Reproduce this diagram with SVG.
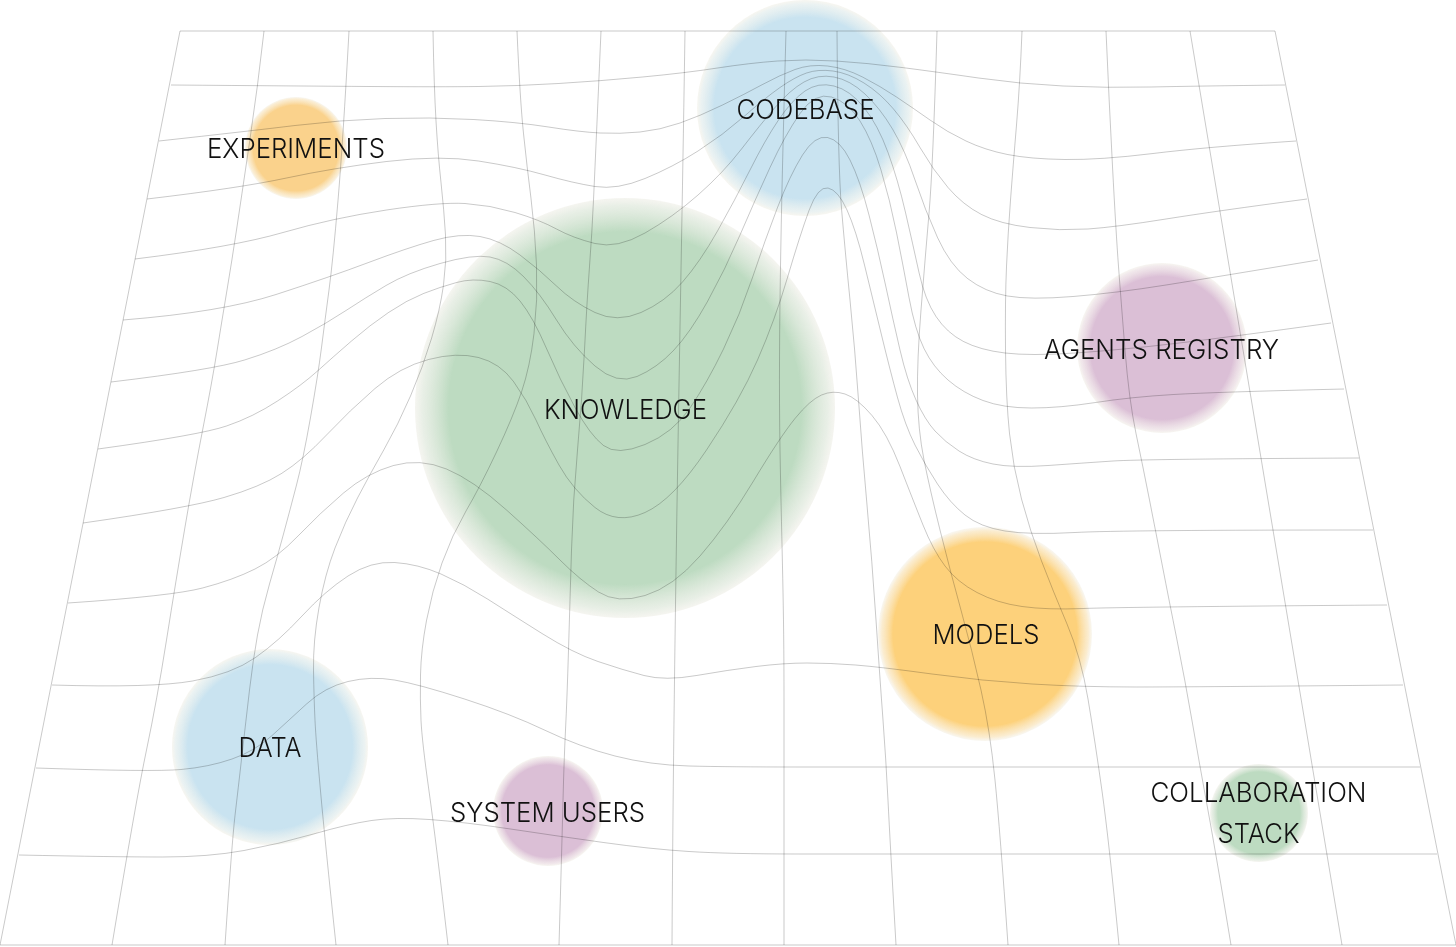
<svg xmlns="http://www.w3.org/2000/svg" width="1456" height="947" viewBox="0 0 1456 947">
<defs>
<style>
.g{fill:none;stroke:#000;stroke-opacity:0.21;stroke-width:1}
.b{mix-blend-mode:multiply}
.t{font-family:Inter,"Noto Sans","Liberation Sans",sans-serif;font-weight:300;font-size:27px;fill:#111;text-anchor:middle}
</style>
<radialGradient id="gGreen"><stop offset="0" stop-color="#bddbc1"/><stop offset="0.84" stop-color="#bddbc1"/><stop offset="0.965" stop-color="#d6e2d2" stop-opacity="0.55"/><stop offset="1" stop-color="#e6e6da" stop-opacity="0.4"/></radialGradient>
<radialGradient id="gBlue"><stop offset="0" stop-color="#c9e3f0"/><stop offset="0.84" stop-color="#c9e3f0"/><stop offset="0.965" stop-color="#dbe8e8" stop-opacity="0.55"/><stop offset="1" stop-color="#ebe9dc" stop-opacity="0.4"/></radialGradient>
<radialGradient id="gPurple"><stop offset="0" stop-color="#dbbfd6"/><stop offset="0.84" stop-color="#dbbfd6"/><stop offset="0.965" stop-color="#e6d6dc" stop-opacity="0.55"/><stop offset="1" stop-color="#ebe7dc" stop-opacity="0.4"/></radialGradient>
<radialGradient id="gOrange"><stop offset="0" stop-color="#fdd17b"/><stop offset="0.86" stop-color="#fdd17b"/><stop offset="0.965" stop-color="#f8e0b0" stop-opacity="0.6"/><stop offset="1" stop-color="#f0ebdc" stop-opacity="0.4"/></radialGradient>
<radialGradient id="gOrange2"><stop offset="0" stop-color="#fad28c"/><stop offset="0.84" stop-color="#fad28c"/><stop offset="0.965" stop-color="#f7e2b8" stop-opacity="0.6"/><stop offset="1" stop-color="#f0ebdc" stop-opacity="0.4"/></radialGradient>
</defs>
<rect x="0" y="0" width="1456" height="947" fill="#fff"/>
<g id="grid">
<path class="g" d="M180,31 L1275,31"/>
<path class="g" d="M171,85 Q300,86 370,86.5 Q440,87 478.5,86.5 Q517,86 558.5,83.5 Q600,81 642.5,77 Q685,73 717.5,68 Q750,63 777.5,61 Q805,59 836,61 Q867,63 902,67.5 Q937,72 978.5,78 Q1020,84 1063,86 Q1106,88 1151,87 Q1196,86 1285,85"/>
<path class="g" d="M159,141 Q250,131 295,125.5 Q340,120 385,118.5 Q430,117 473.5,119.5 Q517,122 548.5,127 Q580,132 600,133 Q620,134 640,132 Q660,130 680,123 Q700,116 722.5,105 Q745,94 762.5,84.5 Q780,75 795,69.5 Q810,64 827.5,66 Q845,68 862.5,77 Q880,86 896.5,97 Q913,108 930,120 Q947,132 966,141 Q985,150 1007.5,154.5 Q1030,159 1065,159.5 Q1100,160 1153,153.5 Q1206,147 1296,141"/>
<path class="g" d="M147,199 Q240,188 286.5,178 Q333,168 386.5,161.5 Q440,155 478.5,161 Q517,167 545,175 Q573,183 595,186.5 Q617,190 645,178.5 Q673,167 698,151 Q723,135 744,116.5 Q765,98 780,87.5 Q795,77 806.5,73 Q818,69 833,71 Q848,73 864,83 Q880,93 893.5,109 Q907,125 920,147.5 Q933,170 948,187.5 Q963,205 981.5,214.5 Q1000,224 1030,227.5 Q1060,231 1088,229 Q1116,227 1166,219 Q1216,211 1307,199"/>
<path class="g" d="M135,259 Q233,247 283,232.5 Q333,218 386.5,210 Q440,202 465,203.5 Q490,205 515,212.5 Q540,220 556.5,229 Q573,238 595,243.5 Q617,249 645,233 Q673,217 698,195 Q723,173 741.5,149 Q760,125 775,107.5 Q790,90 804,82 Q818,74 834,77 Q850,80 865,94 Q880,108 892.5,129 Q905,150 915,180 Q925,210 937.5,237.5 Q950,265 967.5,278.5 Q985,292 1007.5,296 Q1030,300 1073,296.5 Q1116,293 1166,285 Q1216,277 1318,260"/>
<path class="g" d="M123,320 Q222,312 276,294.5 Q330,277 368.5,262.5 Q407,248 433.5,240.5 Q460,233 480,236.5 Q500,240 520,255 Q540,270 556.5,286 Q573,302 595,312.5 Q617,323 641,312.5 Q665,302 682.5,282 Q700,262 717.5,231 Q735,200 750,170 Q765,140 778.5,120 Q792,100 805,91 Q818,82 834,86 Q850,90 864,107.5 Q878,125 888,152.5 Q898,180 905.5,212.5 Q913,245 919,272.5 Q925,300 936,316.5 Q947,333 963.5,341.5 Q980,350 1005,353 Q1030,356 1075,353 Q1120,350 1175,343.5 Q1230,337 1331,323"/>
<path class="g" d="M111,382 Q212,370 244.5,360 Q277,350 302,336.5 Q327,323 346,310.5 Q365,298 386,285.5 Q407,273 440,263.5 Q473,254 490,257 Q507,260 523.5,276.5 Q540,293 556.5,320 Q573,347 595,366 Q617,385 637,376.5 Q657,368 673.5,350.5 Q690,333 707.5,301.5 Q725,270 740,235 Q755,200 770,167.5 Q785,135 800,113.5 Q815,92 831.5,97 Q848,102 860,121 Q872,140 881,170 Q890,200 896.5,232.5 Q903,265 909,297.5 Q915,330 924,348.5 Q933,367 948,380 Q963,393 983,400.5 Q1003,408 1031.5,408 Q1060,408 1095.5,402.5 Q1131,397 1173.5,394.5 Q1216,392 1344,389"/>
<path class="g" d="M98,449 Q200,435 226.5,426 Q253,417 277.5,401 Q302,385 317.5,371 Q333,357 351.5,341 Q370,325 388.5,312.5 Q407,300 423.5,293.5 Q440,287 456.5,282.5 Q473,278 490,281.5 Q507,285 520,301 Q533,317 546.5,348.5 Q560,380 575,407.5 Q590,435 603.5,445.5 Q617,456 645,444.5 Q673,433 690,408 Q707,383 723.5,349 Q740,315 752.5,277.5 Q765,240 777.5,207.5 Q790,175 802.5,155 Q815,135 827.5,137.5 Q840,140 850,160 Q860,180 869,215 Q878,250 885.5,285 Q893,320 900,350 Q907,380 916,400 Q925,420 935,431 Q945,442 959,451 Q973,460 993,464 Q1013,468 1048,465.5 Q1083,463 1113,461 Q1143,459 1359,458"/>
<path class="g" d="M83,523 Q188,508 224,497.5 Q260,487 281.5,473.5 Q303,460 326.5,435 Q350,410 375,388.5 Q400,367 428.5,359.5 Q457,352 478.5,357.5 Q500,363 513.5,381.5 Q527,400 536,420 Q545,440 559,465 Q573,490 595,507.5 Q617,525 645,512.5 Q673,500 706.5,450 Q740,400 757.5,360 Q775,320 787.5,277.5 Q800,235 809,210.5 Q818,186 828,188 Q838,190 847,210 Q856,230 864.5,265 Q873,300 881.5,335 Q890,370 897.5,397.5 Q905,425 915,445 Q925,465 937.5,484 Q950,503 965,515 Q980,527 1005,531 Q1030,535 1075,532.5 Q1120,530 1373,530"/>
<path class="g" d="M68,603 Q172,596 202.5,588 Q233,580 255,569 Q277,558 298.5,535.5 Q320,513 343.5,493 Q367,473 393.5,465.5 Q420,458 446.5,469 Q473,480 506.5,510 Q540,540 560,560 Q580,580 598.5,592 Q617,604 645,595.5 Q673,587 700,556 Q727,525 753.5,481 Q780,437 795,418.5 Q810,400 821.5,395 Q833,390 845,394 Q857,398 872,415.5 Q887,433 900,466.5 Q913,500 923,525 Q933,550 945,566 Q957,582 977,592.5 Q997,603 1022,606.5 Q1047,610 1083.5,608.5 Q1120,607 1387,605"/>
<path class="g" d="M52,685 Q153,688 192.5,681 Q232,674 255.5,657.5 Q279,641 302,616 Q325,591 348,576 Q371,561 394.5,562.5 Q418,564 441,574 Q464,584 487.5,599 Q511,614 542,633.5 Q573,653 598,661.5 Q623,670 644,675.5 Q665,681 696.5,675.5 Q728,670 756,666.5 Q784,663 807,663 Q830,663 855.5,665 Q881,667 932,674 Q983,681 1032,684 Q1081,687 1136.5,687 Q1192,687 1403,685"/>
<path class="g" d="M36,768 Q153,772 181,769.5 Q209,767 232,759 Q255,751 271.5,736 Q288,721 306.5,704 Q325,687 348,681.5 Q371,676 394.5,680 Q418,684 464.5,699 Q511,714 545.5,730.5 Q580,747 615,756 Q650,765 689,766 Q728,767 800,767 L1420,767"/>
<path class="g" d="M19,855 Q116,857 162.5,857 Q209,857 244,850.5 Q279,844 313.5,834 Q348,824 371.5,820.5 Q395,817 429.5,819.5 Q464,822 510.5,829 Q557,836 603.5,842.5 Q650,849 689,851.5 Q728,854 800,854 L1437,854"/>
<path class="g" d="M0,945 L1456,945"/>
<path class="g" d="M180,31 L0,945"/>
<path class="g" d="M264,31 Q258,85 249.5,142.5 Q241,200 236.5,230 Q232,260 227,290 Q222,320 217,351 Q212,382 203,428 Q194,474 185,527 Q176,580 166.5,640 Q157,700 146.5,750 Q136,800 112,945"/>
<path class="g" d="M349,31 Q343,141 338,200.5 Q333,260 329,290 Q325,320 321.5,347.5 Q318,375 310.5,417.5 Q303,460 296.5,485 Q290,510 283.5,534 Q277,558 269.5,584 Q262,610 257.5,635 Q253,660 249.5,690 Q246,720 242,755 Q238,790 235,815.5 Q232,841 225,945"/>
<path class="g" d="M433,31 Q434,87 436,121 Q438,155 441,182.5 Q444,210 445.5,235 Q447,260 443.5,285 Q440,310 431.5,338.5 Q423,367 410.5,396 Q398,425 384,449.5 Q370,474 357.5,498 Q345,522 335,548 Q325,574 319,607.5 Q313,641 313.5,670.5 Q314,700 315,720.5 Q316,741 320.5,791 Q325,841 336,945"/>
<path class="g" d="M517,31 Q520,100 523.5,133.5 Q527,167 531,198.5 Q535,230 536.5,265 Q538,300 534,333.5 Q530,367 521.5,392 Q513,417 496.5,452 Q480,487 466,511 Q452,535 442,563 Q432,591 426.5,620.5 Q421,650 420.5,675 Q420,700 421,720.5 Q422,741 429,791 Q436,841 448,945"/>
<path class="g" d="M601,31 Q598,100 596.5,133.5 Q595,167 593.5,200 Q592,233 589.5,266.5 Q587,300 584.5,350 Q582,400 577.5,450 Q573,500 571.5,550 Q570,600 568.5,650 Q567,700 565.5,730 Q564,760 563,800.5 Q562,841 559,945"/>
<path class="g" d="M685,31 C681,300 674,600 672,945"/>
<path class="g" d="M786,31 C782,180 778,330 780,450 C782,560 784,600 784,700 L784,945"/>
<path class="g" d="M837,31 Q838,167 841.5,208.5 Q845,250 850,300 Q855,350 858.5,400 Q862,450 867,505 Q872,560 876,620 Q880,680 883,720 Q886,760 888,800.5 Q890,841 896,945"/>
<path class="g" d="M937,31 Q933,167 929,213.5 Q925,260 921,310 Q917,360 917.5,395 Q918,430 924,460 Q930,490 940.5,532 Q951,574 961.5,612 Q972,650 981,690 Q990,730 995,780 Q1000,830 1008,945"/>
<path class="g" d="M1022,31 Q1020,83 1016.5,125 Q1013,167 1010.5,200 Q1008,233 1006.5,266.5 Q1005,300 1005.5,350 Q1006,400 1009.5,433.5 Q1013,467 1021.5,499 Q1030,531 1041.5,561 Q1053,591 1067,624 Q1081,657 1088,699 Q1095,741 1102,791 Q1109,841 1119,945"/>
<path class="g" d="M1106,31 Q1109,100 1112.5,166.5 Q1116,233 1118.5,266.5 Q1121,300 1125,350 Q1129,400 1136,433.5 Q1143,467 1149.5,500 Q1156,533 1162.5,566.5 Q1169,600 1177,640 Q1185,680 1192.5,723.5 Q1200,767 1208,810.5 Q1216,854 1231,945"/>
<path class="g" d="M1190,31 L1342,945"/>
<path class="g" d="M1275,31 L1456,945"/>
</g>
<g id="node-experiments"><circle class="b" cx="296" cy="148" r="51" fill="url(#gOrange2)"/><text class="t" x="296" y="158" textLength="178" lengthAdjust="spacingAndGlyphs">EXPERIMENTS</text></g>
<g id="node-codebase"><circle class="b" cx="805" cy="108" r="108" fill="url(#gBlue)"/><text class="t" x="805.5" y="119" textLength="138" lengthAdjust="spacingAndGlyphs">CODEBASE</text></g>
<g id="node-knowledge"><circle class="b" cx="625" cy="408" r="210" fill="url(#gGreen)"/><text class="t" x="625.5" y="419" textLength="163" lengthAdjust="spacingAndGlyphs">KNOWLEDGE</text></g>
<g id="node-agents-registry"><circle class="b" cx="1162" cy="348" r="85" fill="url(#gPurple)"/><text class="t" x="1161.5" y="359" textLength="235" lengthAdjust="spacingAndGlyphs">AGENTS REGISTRY</text></g>
<g id="node-models"><circle class="b" cx="985" cy="634" r="107" fill="url(#gOrange)"/><text class="t" x="986" y="644" textLength="107" lengthAdjust="spacingAndGlyphs">MODELS</text></g>
<g id="node-data"><circle class="b" cx="270" cy="747" r="98" fill="url(#gBlue)"/><text class="t" x="270" y="757" textLength="63" lengthAdjust="spacingAndGlyphs">DATA</text></g>
<g id="node-system-users"><circle class="b" cx="548" cy="811" r="55" fill="url(#gPurple)"/><text class="t" x="547.5" y="822" textLength="195" lengthAdjust="spacingAndGlyphs">SYSTEM USERS</text></g>
<g id="node-collaboration-stack"><circle class="b" cx="1259" cy="813" r="49" fill="url(#gGreen)"/><text class="t" x="1258.5" y="802" textLength="216" lengthAdjust="spacingAndGlyphs">COLLABORATION</text><text class="t" x="1258.5" y="843" textLength="82" lengthAdjust="spacingAndGlyphs">STACK</text></g>
</svg>
